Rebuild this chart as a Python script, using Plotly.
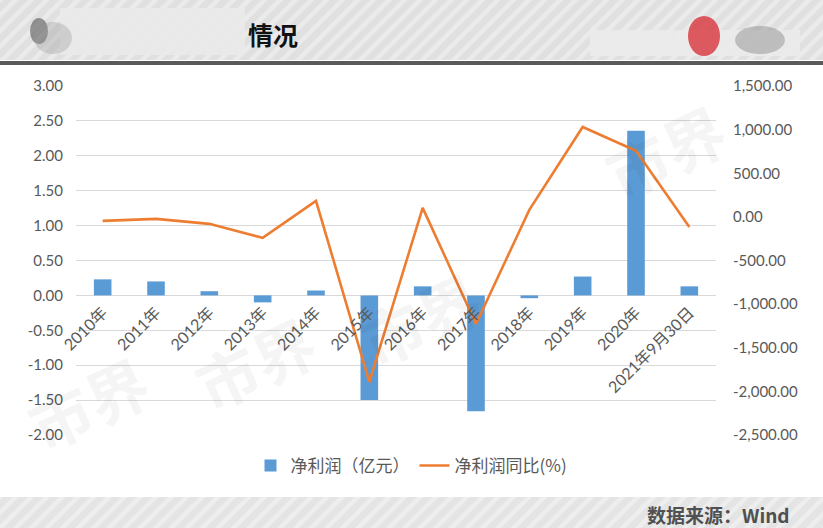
import plotly.graph_objects as go

W, H = 823, 528

categories = ["2010年", "2011年", "2012年", "2013年", "2014年", "2015年",
              "2016年", "2017年", "2018年", "2019年", "2020年", "2021年9月30日"]
net_profit = [0.23, 0.20, 0.06, -0.10, 0.07, -1.50, 0.13, -1.66, -0.04, 0.27, 2.36, 0.13]
net_profit_yoy = [-46, -23, -80, -240, 183, -1890, 103, -1227, 80, 1030, 757, -115]

left_ticks = [3.0, 2.5, 2.0, 1.5, 1.0, 0.5, 0.0, -0.5, -1.0, -1.5, -2.0]
left_labels = ["3.00", "2.50", "2.00", "1.50", "1.00", "0.50", "0.00",
               "-0.50", "-1.00", "-1.50", "-2.00"]
right_ticks = [1500, 1000, 500, 0, -500, -1000, -1500, -2000, -2500]
right_labels = ["1,500.00", "1,000.00", "500.00", "0.00", "-500.00",
                "-1,000.00", "-1,500.00", "-2,000.00", "-2,500.00"]

title_text = "情况"
source_text = "数据来源：Wind"
legend_names = ["净利润（亿元）", "净利润同比(%)"]
watermark_text = "市界"

BAR_C = "#5B9BD5"
LINE_C = "#ED7D31"
TXT_C = "#595959"
GRID_C = "#D9D9D9"
NUM_FONT = "Lato, Noto Sans CJK SC, sans-serif"
CJK_FONT = "Noto Sans CJK SC, sans-serif"

# plot-area geometry (pixels)
px_l, px_r, px_t, px_b = 76, 716, 86, 435
xd = [px_l / W, px_r / W]
yd = [1 - px_b / H, 1 - px_t / H]
ylo, yhi = -2.0, 3.0
zero_pos = yd[0] + (0 - ylo) / (yhi - ylo) * (yd[1] - yd[0])

fig = go.Figure()

# hatched header/footer bands (decorative pattern fills)
fig.add_trace(go.Bar(x=[0.5], y=[1], width=[1], xaxis="x3", yaxis="y3",
                     marker=dict(color="#E0E0E0", line_width=0,
                                 pattern=dict(shape="/", fgcolor="#F6F6F6",
                                              bgcolor="#E0E0E0", size=11, solidity=0.4)),
                     showlegend=False, hoverinfo="skip"))
fig.add_trace(go.Bar(x=[0.5], y=[1], width=[1], xaxis="x4", yaxis="y4",
                     marker=dict(color="#E4E4E4", line_width=0,
                                 pattern=dict(shape="/", fgcolor="#F8F8F8",
                                              bgcolor="#E4E4E4", size=11, solidity=0.4)),
                     showlegend=False, hoverinfo="skip"))

fig.add_trace(go.Bar(x=categories, y=net_profit, name=legend_names[0],
                     marker=dict(color=BAR_C, line_width=0), xaxis="x", yaxis="y"))
fig.add_trace(go.Scatter(x=categories, y=net_profit_yoy, name=legend_names[1],
                         mode="lines", line=dict(color=LINE_C, width=2.6),
                         xaxis="x", yaxis="y2"))

shapes = [
    # header separator
    dict(type="rect", xref="paper", yref="paper", x0=0, x1=1,
         y0=1 - 65 / H, y1=1 - 61 / H, fillcolor="#5A5A5A", line_width=0),
    # blurred logo placeholders in header
    dict(type="rect", xref="paper", yref="paper", x0=60 / W, x1=245 / W,
         y0=1 - 55 / H, y1=1 - 8 / H, fillcolor="#EAEAEA", line_width=0, opacity=0.9),
    dict(type="circle", xref="paper", yref="paper", x0=30 / W, x1=48 / W,
         y0=1 - 44 / H, y1=1 - 18 / H, fillcolor="#3A3A3A", line_width=0, opacity=0.5),
    dict(type="circle", xref="paper", yref="paper", x0=34 / W, x1=72 / W,
         y0=1 - 54 / H, y1=1 - 22 / H, fillcolor="#9A9A9A", line_width=0, opacity=0.35),
    dict(type="rect", xref="paper", yref="paper", x0=590 / W, x1=800 / W,
         y0=1 - 56 / H, y1=1 - 30 / H, fillcolor="#EBEBEB", line_width=0, opacity=0.9),
    dict(type="circle", xref="paper", yref="paper", x0=688 / W, x1=720 / W,
         y0=1 - 56 / H, y1=1 - 16 / H, fillcolor="#D8343D", line_width=0, opacity=0.8),
    dict(type="circle", xref="paper", yref="paper", x0=735 / W, x1=785 / W,
         y0=1 - 54 / H, y1=1 - 26 / H, fillcolor="#7A7A7A", line_width=0, opacity=0.4),
]

annotations = [
    dict(text=title_text, xref="paper", yref="paper", x=246 / W, y=1 - 34 / H,
         xanchor="left", yanchor="middle", showarrow=False,
         font=dict(family=CJK_FONT, size=25, color="#111111", weight="bold")),
    dict(text=source_text, xref="paper", yref="paper", x=792 / W, y=1 - 514 / H,
         xanchor="right", yanchor="middle", showarrow=False,
         font=dict(family=CJK_FONT, size=19, color="#505050", weight="bold")),
]
# faint watermarks
for wx, wy in [(88, 402), (255, 362), (420, 318), (665, 150)]:
    annotations.append(dict(text=watermark_text, xref="paper", yref="paper",
                            x=wx / W, y=1 - wy / H, xanchor="center", yanchor="middle",
                            showarrow=False, textangle=-25,
                            font=dict(family=CJK_FONT, size=62, color="rgba(0,0,0,0.04)",
                                      weight="bold")))

fig.update_layout(
    width=W, height=H,
    margin=dict(l=0, r=0, t=0, b=0),
    paper_bgcolor="white", plot_bgcolor="rgba(0,0,0,0)",
    bargap=0.67, barmode="overlay",
    showlegend=True,
    legend=dict(orientation="h", x=0.5, xanchor="center", y=1 - 466 / H, yanchor="middle",
                font=dict(family=CJK_FONT, size=17, color=TXT_C),
                itemwidth=30, traceorder="normal", bgcolor="rgba(0,0,0,0)"),
    xaxis=dict(domain=xd, anchor="free", position=zero_pos, type="category",
               showgrid=False, showline=False, zeroline=False, ticks="",
               tickangle=-45, automargin=False, ticklabelstandoff=4,
               tickfont=dict(family=NUM_FONT, size=16, color=TXT_C)),
    yaxis=dict(domain=yd, range=[ylo, yhi], tickvals=left_ticks, ticktext=left_labels,
               showgrid=True, gridcolor=GRID_C, gridwidth=1,
               zeroline=True, zerolinecolor=GRID_C, zerolinewidth=1,
               showline=False, ticks="", ticklabelstandoff=12, automargin=False,
               tickfont=dict(family=NUM_FONT, size=15, color=TXT_C)),
    yaxis2=dict(domain=yd, range=[-2500, 1500], overlaying="y", side="right",
                anchor="x", tickvals=right_ticks, ticktext=right_labels,
                showgrid=False, zeroline=False, showline=False, ticks="",
                ticklabelstandoff=16, automargin=False,
                tickfont=dict(family=NUM_FONT, size=15, color=TXT_C)),
    xaxis3=dict(domain=[0, 1], range=[0, 1], visible=False, anchor="y3", fixedrange=True),
    yaxis3=dict(domain=[1 - 60 / H, 1], range=[0, 1], visible=False, anchor="x3", fixedrange=True),
    xaxis4=dict(domain=[0, 1], range=[0, 1], visible=False, anchor="y4", fixedrange=True),
    yaxis4=dict(domain=[0, 31 / H], range=[0, 1], visible=False, anchor="x4", fixedrange=True),
    shapes=shapes,
    annotations=annotations,
)

fig.write_html("out.html")
